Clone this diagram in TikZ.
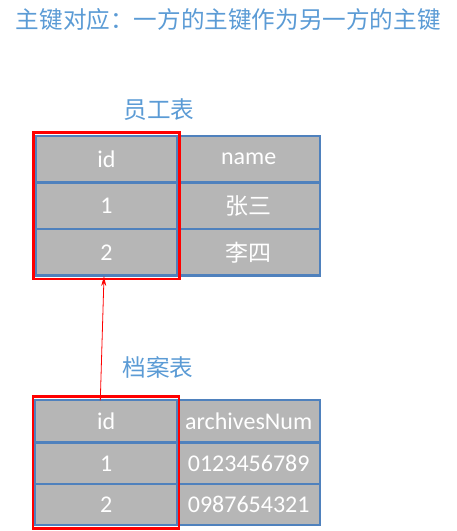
\documentclass[tikz,border=0pt]{standalone}
\usepackage{fontspec}
\setmainfont{Carlito}
\newfontfamily\cjk{Noto Sans CJK SC}
\usepackage{tikz}
\usetikzlibrary{arrows.meta,fit}
\definecolor{titleblue}{RGB}{91,155,213}
\definecolor{cellblue}{RGB}{79,129,189}
\definecolor{cellgray}{RGB}{182,182,182}
\tikzstyle{cell}=[draw=cellblue, line width=2.2pt, fill=cellgray, text=white, inner sep=0pt, outer sep=0pt, minimum width=142pt]
\tikzstyle{keybox}=[draw=red, line width=2.2pt, inner xsep=2pt, inner ysep=3.5pt]
\tikzstyle{caption}=[text=titleblue, inner sep=0pt, font=\cjk\fontsize{23.6}{28}\selectfont]
\newcommand{\cell}{\node[cell]}

\begin{document}
\begin{tikzpicture}[x=1pt, y=-1pt, font=\fontsize{24}{28}\selectfont]
\useasboundingbox (0,0) rectangle (456,531);
\node[caption] (title) at (228.3,20) {主键对应：一方的主键作为另一方的主键};
\node[caption] (empname) at (159,110) {员工表};
\node[caption] (arcname) at (158,367) {档案表};
% employee table
\cell (eid) at (106.5,159.25) [minimum height=46.5pt] {id};
\cell (ename) at (248.7,159.25) [minimum height=46.5pt] {name};
\cell (e1) at (106.5,205.75) [minimum height=46.5pt] {1};
\cell (en1) at (248.7,205.75) [minimum height=46.5pt] {\cjk\fontsize{23}{27}\selectfont 张三};
\cell (e2) at (106.5,252.25) [minimum height=46.5pt] {2};
\cell (en2) at (248.7,252.25) [minimum height=46.5pt] {\cjk\fontsize{23}{27}\selectfont 李四};
% archives table
\cell (aid) at (106.3,421.25) [minimum height=42.5pt] {id};
\cell (anum) at (248.7,421.25) [minimum height=42.5pt] {archivesNum};
\cell (a1) at (106.3,463.4) [minimum height=41.8pt] {1};
\cell (an1) at (248.7,463.4) [minimum height=41.8pt] {0123456789};
\cell (a2) at (106.3,504.6) [minimum height=40.6pt] {2};
\cell (an2) at (248.7,504.6) [minimum height=40.6pt] {0987654321};
% primary keys
\node[keybox, fit=(eid)(e2)] (ekey) {};
\node[keybox, fit=(aid)(a2)] (akey) {};
\draw[red, line width=0.8pt, -{Stealth[length=10pt,width=5pt]}]
  ([xshift=-6pt, yshift=-5pt]akey.north) -- ([xshift=-2.5pt, yshift=4pt]ekey.south);
\end{tikzpicture}
\end{document}
